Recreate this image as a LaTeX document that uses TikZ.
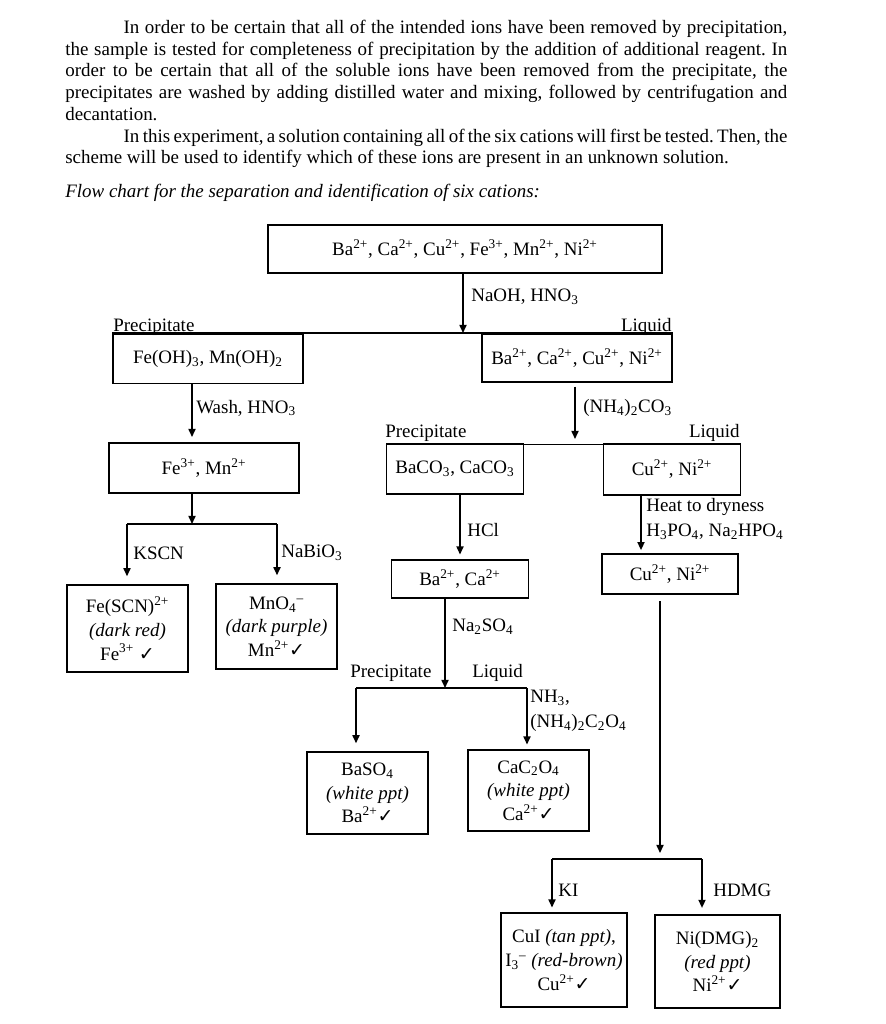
\documentclass[tikz,border=0pt]{standalone}
\usepackage{fontspec}
\setmainfont{Liberation Serif}
\newfontfamily\chkfont{DejaVu Sans}
\usetikzlibrary{arrows.meta,calc}
\newcommand{\ok}{{\chkfont ✓}}
\newcommand{\sups}[1]{\textsuperscript{#1}}
\newcommand{\subs}[1]{\textsubscript{#1}}

\begin{document}
\begin{tikzpicture}[x=0.617pt,y=-0.617pt,
  font=\fontsize{11.7}{14.6}\selectfont,
  box/.style 2 args={draw,line width=0.8pt,inner sep=0pt,align=center,minimum width=#1*0.617pt,minimum height=#2*0.617pt},
  lbl/.style={inner sep=0pt,align=left},
  arr/.style={line width=0.9pt,-{Triangle[length=5pt,width=4.4pt]}},
  bar/.style={line width=0.9pt}]
\useasboundingbox (0,0) rectangle (886,1024);

\node[anchor=north west,inner sep=0pt,text width=445.5pt,align=justify,font=\fontsize{11.7}{13.4}\selectfont\frenchspacing] (intro) at (65,18)
 {\spaceskip=0.25em plus 0.25em minus 0.1em\relax
 \noindent\strut\hspace*{36pt}In order to be certain that all of the intended ions have been removed by precipitation,\linebreak
 the sample is tested for completeness of precipitation by the addition of additional reagent. In\linebreak
 order to be certain that all of the soluble ions have been removed from the precipitate, the\linebreak
 precipitates are washed by adding distilled water and mixing, followed by centrifugation and\linebreak
 decantation.\par
 \noindent\hspace*{36pt}In this experiment, a solution containing all of the six cations will first be tested. Then, the\linebreak
 scheme will be used to identify which of these ions are present in an unknown solution.};
\node[lbl,anchor=base west] (fc) at (65,198) {\textit{Flow chart for the separation and identification of six cations:}};

\node[box={394}{48}] (mix) at (465,249) {Ba\sups{2+}, Ca\sups{2+}, Cu\sups{2+}, Fe\sups{3+}, Mn\sups{2+}, Ni\sups{2+}};
\node[box={190}{49}] (hyd) at (208,359) {Fe(OH)\subs{3}, Mn(OH)\subs{2}};
\node[box={190}{48}] (liqa) at (577,358) {Ba\sups{2+}, Ca\sups{2+}, Cu\sups{2+}, Ni\sups{2+}};
\node[box={190}{50}] (femn) at (204,468) {Fe\sups{3+}, Mn\sups{2+}};
\node[box={137}{50}] (carb) at (455,469) {BaCO\subs{3}, CaCO\subs{3}};
\node[box={137}{51}] (cuni) at (672,469.5) {Cu\sups{2+}, Ni\sups{2+}};
\node[box={137}{38}] (baca) at (460,579) {Ba\sups{2+}, Ca\sups{2+}};
\node[box={136}{40}] (cunib) at (670,574) {Cu\sups{2+}, Ni\sups{2+}};
\node[box={121}{87}] (fescn) at (127.5,628.5) {Fe(SCN)\sups{2+}\\\textit{(dark red)}\\Fe\sups{3+} \ok};
\node[box={121}{85}] (mno) at (276.5,626.5) {MnO\subs{4}\sups{\textendash}\\\textit{(dark purple)}\\Mn\sups{2+}\ok};
\node[box={121}{82}] (baso) at (367.5,793) {BaSO\subs{4}\\\textit{(white ppt)}\\Ba\sups{2+}\ok};
\node[box={121}{81}] (cacox) at (528.5,790.5) {CaC\subs{2}O\subs{4}\\\textit{(white ppt)}\\Ca\sups{2+}\ok};
\node[box={126}{94}] (cui) at (564,960) {CuI \textit{(tan ppt)},\\I\subs{3}\sups{\textendash} \textit{(red-brown)}\\Cu\sups{2+}\ok};
\node[box={125}{93}] (nidmg) at (717.5,961.5) {Ni(DMG)\subs{2}\\\textit{(red ppt)}\\Ni\sups{2+}\ok};

\coordinate (ja) at (463,333);
\draw[arr] (mix.south -| ja) -- (ja);
\draw[bar] (hyd.north west |- ja) -- (liqa.north east |- ja);
\node[lbl,anchor=west] (ra) at (471,297) {NaOH, HNO\subs{3}};
\node[lbl,anchor=base west] (pa) at (113,331.5) {Precipitate};
\node[lbl,anchor=base east] (la) at (672,331.5) {Liquid};

\coordinate (jb) at (192,437);
\draw[arr] (hyd.south -| jb) -- (jb);
\node[lbl,anchor=west] (rb) at (196,408) {Wash, HNO\subs{3}};

\coordinate (jc) at (575,439);
\coordinate (jd) at (575,444.3);
\draw[arr,shorten <=2.5pt] (liqa.south -| jc) -- (jc);
\draw[bar] (carb.north west |- jd) -- (cuni.north east |- jd);
\node[lbl,anchor=west] (rc) at (583,408) {(NH\subs{4})\subs{2}CO\subs{3}};
\node[lbl,anchor=base west] (pd) at (385,437.5) {Precipitate};
\node[lbl,anchor=base east] (ld) at (740,437.5) {Liquid};

\coordinate (je) at (192,524);
\coordinate (jf) at (127,524);
\coordinate (jg) at (277,524);
\draw[arr] (femn.south -| je) -- (je);
\draw[bar] (jf) -- (jg);
\draw[arr,shorten >=5pt] (jf) -- (fescn.north -| jf);
\draw[arr,shorten >=5pt] (jg) -- (mno.north -| jg);
\node[lbl,anchor=west] (rf) at (133,553) {KSCN};
\node[lbl,anchor=west] (rg) at (281,553) {NaBiO\subs{3}};

\draw[arr,shorten >=3pt] (carb.south -| baca.north) -- (baca.north);
\node[lbl,anchor=west] (rh) at (467,530) {HCl};

\coordinate (ji) at (641,500);
\draw[arr,shorten >=2pt] (cuni.south -| ji) -- (cunib.north -| ji);
\node[lbl,anchor=west,font=\fontsize{11.7}{15.8}\selectfont] (ri) at (646,519) {Heat to dryness\\H\subs{3}PO\subs{4}, Na\subs{2}HPO\subs{4}};

\coordinate (jj) at (445,688);
\coordinate (jk) at (356,688);
\coordinate (jl) at (527,688);
\draw[arr] (baca.south -| jj) -- (jj);
\draw[bar] (jk) -- (jl);
\draw[arr,shorten >=5pt] (jk) -- (baso.north -| jk);
\draw[arr,shorten >=3pt] (jl) -- (cacox.north -| jl);
\node[lbl,anchor=west] (rj) at (452,627) {Na\subs{2}SO\subs{4}};
\node[lbl,anchor=west] (pj) at (350,673) {Precipitate};
\node[lbl,anchor=west] (lj) at (472,673) {Liquid};
\node[lbl,anchor=west,font=\fontsize{11.7}{15.4}\selectfont] (rl) at (530,710.5) {NH\subs{3},\\(NH\subs{4})\subs{2}C\subs{2}O\subs{4}};

\coordinate (jm) at (660,853);
\coordinate (jn) at (552,859);
\coordinate (jo) at (702,859);
\draw[arr,shorten <=4pt] (cunib.south -| jm) -- (jm);
\draw[bar] (jn) -- (jo);
\draw[arr,shorten >=3pt] (jn) -- (cui.north -| jn);
\draw[arr,shorten >=4pt] (jo) -- (nidmg.north -| jo);
\node[lbl,anchor=west] (rn) at (558,890) {KI};
\node[lbl,anchor=west] (ro) at (713,890) {HDMG};

\end{tikzpicture}
\end{document}
